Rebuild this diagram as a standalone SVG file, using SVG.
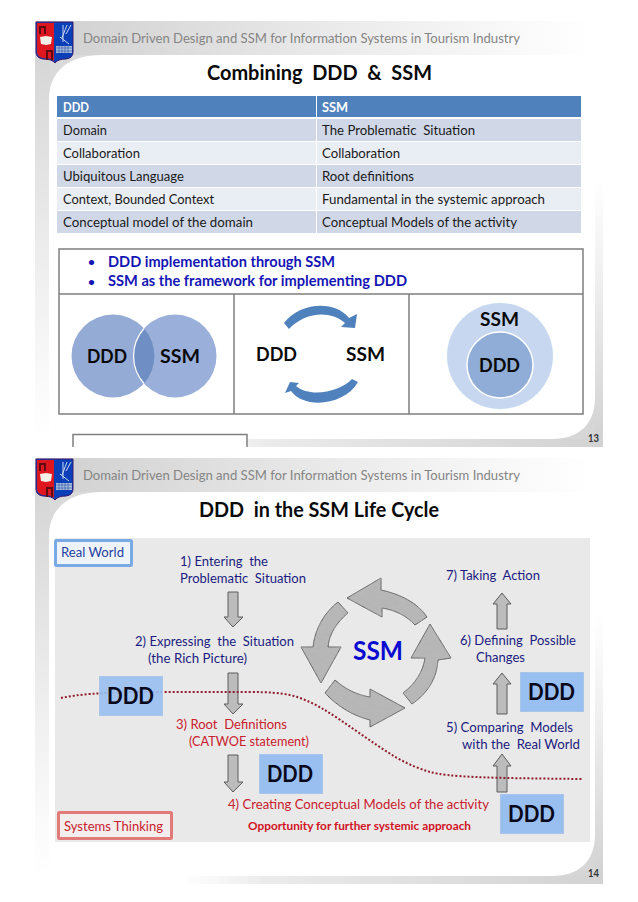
<svg xmlns="http://www.w3.org/2000/svg" width="638" height="902" viewBox="0 0 638 902">
<style>
text{font-family:"Lato","Liberation Sans",sans-serif;white-space:pre}
.hd{font-size:13.5px;fill:#858585}
.ti{font-size:20.500px;font-weight:700;fill:#0a0a0a}
.tb{font-size:14px;fill:#1a1a1a}
.th{font-size:14px;font-weight:700;fill:#fff}
.bl{font-size:15px;font-weight:700;fill:#1515b5}
.dot{font-size:12px;font-weight:700;fill:#1515b5}
.big{font-size:19px;font-weight:700;fill:#0a0a0a}
.pg{font-size:10.5px;font-weight:700;fill:#333}
.nv{font-size:13.5px;fill:#1c1c80}
.rd{font-size:13.5px;fill:#c9202c}
.dd{font-size:23px;font-weight:700;fill:#08081a}
.grid{fill:none;stroke:#7f7f7f;stroke-width:1.5}
.ddbox{fill:#99bff0;stroke:#a9c6ea;stroke-width:1}
.ga{fill:#b8b8b8;stroke:#5a5a5a;stroke-width:1;filter:url(#tex)}
.sa{fill:#bcbcbc;stroke:#5c5c5c;stroke-width:1}
.ba{fill:#4f81bd}
</style>
<defs>
<filter id="tex" x="-5%" y="-5%" width="110%" height="110%">
<feTurbulence type="fractalNoise" baseFrequency="0.12 0.3" numOctaves="2" seed="4" result="n"/>
<feColorMatrix in="n" type="matrix" values="0 0 0 0 .45  0 0 0 0 .45  0 0 0 0 .45  .9 0 0 0 -.2" result="m"/>
<feComposite in="m" in2="SourceGraphic" operator="in" result="t"/>
<feMerge><feMergeNode in="SourceGraphic"/><feMergeNode in="t"/></feMerge>
</filter>
<linearGradient id="topG"><stop offset="0" stop-color="#cfcfcf"/><stop offset=".55" stop-color="#ebebeb"/><stop offset="1" stop-color="#fff"/></linearGradient>
<linearGradient id="leftG" x1="0" y1="0" x2="0" y2="1"><stop offset="0" stop-color="#d2d2d2"/><stop offset=".6" stop-color="#efefef"/><stop offset="1" stop-color="#fff"/></linearGradient>
<linearGradient id="botG"><stop offset="0" stop-color="#fff"/><stop offset=".2" stop-color="#ebebeb"/><stop offset="1" stop-color="#d2d2d2"/></linearGradient>
<linearGradient id="rightG" x1="0" y1="0" x2="0" y2="1"><stop offset="0" stop-color="#fff"/><stop offset=".4" stop-color="#efefef"/><stop offset="1" stop-color="#d2d2d2"/></linearGradient>
<g id="frame">
<rect x="35" y="21" width="556" height="34" fill="url(#topG)"/>
<rect x="35" y="21" width="14" height="419" fill="url(#leftG)"/>
<path d="M49,100 C49,70 70,55 102,55 L49,55 Z" fill="#dadada"/>
<rect x="183" y="439" width="420" height="8" fill="url(#botG)"/>
<rect x="595" y="177" width="8" height="262" fill="url(#rightG)"/>
<path d="M595,398 C595,425 578,439 552,439 L595,439 Z" fill="#d6d6d6"/>
</g>
<g id="logo">
<path d="M36,22 H73 V52 Q73,58 66,59 Q58,59 55,63 Q52,59 43,59 Q36,58 36,52 Z" fill="#0b3fb8" stroke="#3a1a6e" stroke-width="1"/>
<path d="M37,23 H54 V61 Q51,58 43,58 Q37,57 37,51 Z" fill="#dd1620"/>
<path d="M39,26 H46 V34 H44 V28 H41 V34 H39 Z" fill="#5e0c12"/>
<path d="M46,50 H53 V60 H51 V52 H48 V60 H46 Z" fill="#5e0c12"/>
<path d="M40,37 L46,36 L52,37 L51,44 L46,45 L41,44 Z" fill="#f4f0e8"/>
<path d="M63,25 V42 M67,25 L62,38 M71,25 L66,34 M60,37 L69,44" stroke="#c9d8ee" stroke-width="1" fill="none"/>
<rect x="56" y="46" width="16" height="7" fill="#a9bfdc"/>
<path d="M56,48 H72 M56,51 H72 M59,46 V53 M62,46 V53 M65,46 V53 M68,46 V53" stroke="#2a4da8" stroke-width=".6"/>
</g>
</defs>
<rect width="638" height="902" fill="#fff"/>

<g id="slide13-frame"><use href="#frame"/><use href="#logo"/></g>
<text class="hd" x="83" y="43" textLength="437" lengthAdjust="spacingAndGlyphs">Domain Driven Design and SSM for Information Systems in Tourism Industry</text>
<text class="ti" x="207" y="80" textLength="225" lengthAdjust="spacingAndGlyphs">Combining  DDD  &amp;  SSM</text>

<g id="table">
<rect x="57" y="96" width="524" height="21" fill="#4f81bd"/>
<rect x="57" y="119" width="524" height="22" fill="#d0d8e8"/>
<rect x="57" y="142" width="524" height="22" fill="#e9edf4"/>
<rect x="57" y="165" width="524" height="22" fill="#d0d8e8"/>
<rect x="57" y="188" width="524" height="22" fill="#e9edf4"/>
<rect x="57" y="211" width="524" height="22" fill="#d0d8e8"/>
<path d="M316.5,96 V233" stroke="#fff" stroke-width="1"/>
<text class="th" x="63" y="112" textLength="26" lengthAdjust="spacingAndGlyphs">DDD</text>
<text class="th" x="322" y="112" textLength="26" lengthAdjust="spacingAndGlyphs">SSM</text>
<text class="tb" x="63" y="135" textLength="44" lengthAdjust="spacingAndGlyphs">Domain</text>
<text class="tb" x="322" y="135" textLength="153" lengthAdjust="spacingAndGlyphs">The Problematic  Situation</text>
<text class="tb" x="63" y="158" textLength="77" lengthAdjust="spacingAndGlyphs">Collaboration</text>
<text class="tb" x="322" y="158" textLength="78" lengthAdjust="spacingAndGlyphs">Collaboration</text>
<text class="tb" x="63" y="181" textLength="121" lengthAdjust="spacingAndGlyphs">Ubiquitous Language</text>
<text class="tb" x="322" y="181" textLength="92" lengthAdjust="spacingAndGlyphs">Root definitions</text>
<text class="tb" x="63" y="204" textLength="151" lengthAdjust="spacingAndGlyphs">Context, Bounded Context</text>
<text class="tb" x="322" y="204" textLength="223" lengthAdjust="spacingAndGlyphs">Fundamental in the systemic approach</text>
<text class="tb" x="63" y="227" textLength="190" lengthAdjust="spacingAndGlyphs">Conceptual model of the domain</text>
<text class="tb" x="322" y="227" textLength="195" lengthAdjust="spacingAndGlyphs">Conceptual Models of the activity</text>
</g>

<g id="comparison-grid">
<rect class="grid" x="59" y="249" width="524" height="165"/>
<path class="grid" d="M59,294 H583 M234,294 V414 M409,294 V414"/>
<text class="dot" x="88" y="266">•</text>
<text class="dot" x="88" y="286">•</text>
<text class="bl" x="108" y="267" textLength="227" lengthAdjust="spacingAndGlyphs">DDD implementation through SSM</text>
<text class="bl" x="108" y="286" textLength="299" lengthAdjust="spacingAndGlyphs">SSM as the framework for implementing DDD</text>
</g>

<g id="venn">
<circle cx="113" cy="356" r="41.5" fill="#94abd6"/>
<circle cx="175" cy="356" r="41.5" fill="#9ab0da"/>
<path d="M144,328.5 A41.5,41.5 0 0 1 144,383.5 A41.5,41.5 0 0 1 144,328.5 Z" fill="#6f8fc4"/>
<path d="M144,328.5 A41.5,41.5 0 0 0 144,383.5" fill="none" stroke="#fff" stroke-width="1.2"/>
<text class="big" x="87" y="363" textLength="40" lengthAdjust="spacingAndGlyphs">DDD</text>
<text class="big" x="160" y="363" textLength="40" lengthAdjust="spacingAndGlyphs">SSM</text>
</g>

<g id="cycle">
<path class="ba" d="M284,323 C300,302 335,300 349,318 L357,314 L355,328 L341,327 L345,323 C330,310 305,312 289,329 Z"/>
<path class="ba" d="M358,382 C345,405 305,410 291,391 L285,393 L290,382 L299,383 L296,386 C310,398 340,392 352,379 Z"/>
<text class="big" x="256" y="361" textLength="41" lengthAdjust="spacingAndGlyphs">DDD</text>
<text class="big" x="346" y="361" textLength="39" lengthAdjust="spacingAndGlyphs">SSM</text>
</g>

<g id="nested">
<circle cx="500" cy="356" r="53" fill="#c6d7ef"/>
<circle cx="500" cy="365" r="33" fill="#8fadd6" stroke="#fff" stroke-width="1.5"/>
<text class="big" x="480" y="326" textLength="39" lengthAdjust="spacingAndGlyphs">SSM</text>
<text class="big" x="479" y="372" textLength="41" lengthAdjust="spacingAndGlyphs">DDD</text>
</g>

<g id="cropped-box">
<rect x="73" y="434" width="174" height="13" fill="#fff"/>
<path class="grid" d="M73,447 V434.5 H247 V447"/>
</g>
<text class="pg" x="588" y="442" textLength="11" lengthAdjust="spacingAndGlyphs">13</text>

<g id="slide14-frame"><use href="#frame" y="437"/><use href="#logo" y="437"/></g>
<text class="hd" x="83" y="480" textLength="437" lengthAdjust="spacingAndGlyphs">Domain Driven Design and SSM for Information Systems in Tourism Industry</text>
<text class="ti" x="199" y="517" textLength="240" lengthAdjust="spacingAndGlyphs">DDD  in the SSM Life Cycle</text>

<rect id="panel" x="55" y="538" width="535" height="304" fill="#e9e9e9"/>

<g id="ssm-cycle">
<path class="ga" d="M347,598 L381,578 L381,590 C400,594 418,603 427,617 L415,625 C407,616 395,610 382,608 L382,617 Z"/>
<path class="ga" d="M430,624 L411,658 L425,658 C423,672 415,684 403,693 L412,704 C428,693 437,678 438,660 L451,658 Z"/>
<path class="ga" d="M321,683 L301,647 L313,647 C315,628 325,612 338,602 L348,613 C337,622 329,634 328,647 L341,647 Z"/>
<path class="ga" d="M405,708 L370,689 L370,697 C357,695 345,689 335,680 L325,693 C338,707 354,716 370,720 L370,727 Z"/>
<text x="353" y="660" font-size="26" font-weight="700" fill="#0a0ad0" textLength="50" lengthAdjust="spacingAndGlyphs">SSM</text>
</g>

<g id="connectors">
<path class="sa" d="M228,592 H238 V617 H243 L233,627 L224,617 H228 Z"/>
<path class="sa" d="M228,673 H238 V704 H243 L233,714 L224,704 H228 Z"/>
<path class="sa" d="M228,755 H238 V782 H243 L233,792 L224,782 H228 Z"/>
<path class="sa" d="M502,593 L511,604 H507 V629 H497 V604 H493 Z"/>
<path class="sa" d="M502,673 L511,684 H507 V714 H497 V684 H493 Z"/>
<path class="sa" d="M502,754 L511,766 H507 V792 H497 V766 H493 Z"/>
<path d="M61,698 C80,694 100,693 130,692 L250,692 C268,692 280,693 290,695 C302,698 313,703 323,709 C345,722 372,743 397,758 C410,765 420,769 430,772 C450,777 480,778 583,779" fill="none" stroke="#8f1c2c" stroke-width="2" stroke-dasharray="2 2"/>
</g>

<g id="real-world">
<rect x="55.500" y="540.500" width="76" height="25" fill="#eef3fa" stroke="#79aae6" stroke-width="3" rx="1"/>
<text x="61" y="557" font-size="14" fill="#1f3f9f" textLength="63" lengthAdjust="spacingAndGlyphs">Real World</text>
</g>
<g id="systems-thinking">
<rect x="58.500" y="812.500" width="113" height="26" fill="#f3eded" stroke="#e37a7a" stroke-width="3" rx="1"/>
<text x="64" y="831" font-size="14" fill="#c9202c" textLength="99" lengthAdjust="spacingAndGlyphs">Systems Thinking</text>
</g>

<g id="step1"><text class="nv" x="180" y="566" textLength="88" lengthAdjust="spacingAndGlyphs">1) Entering  the</text><text class="nv" x="180" y="583" textLength="126" lengthAdjust="spacingAndGlyphs">Problematic  Situation</text></g>
<g id="step2"><text class="nv" x="135" y="646" textLength="159" lengthAdjust="spacingAndGlyphs">2) Expressing  the  Situation</text><text class="nv" x="148" y="663" textLength="99" lengthAdjust="spacingAndGlyphs">(the Rich Picture)</text></g>
<g id="step3"><text class="rd" x="176" y="729" textLength="111" lengthAdjust="spacingAndGlyphs">3) Root  Definitions</text><text class="rd" x="189" y="746" textLength="120" lengthAdjust="spacingAndGlyphs">(CATWOE statement)</text></g>
<g id="step4"><text class="rd" x="228" y="809" textLength="261" lengthAdjust="spacingAndGlyphs">4) Creating Conceptual Models of the activity</text>
<text x="248" y="830" font-size="11.5" font-weight="700" fill="#d2121f" textLength="223" lengthAdjust="spacingAndGlyphs">Opportunity for further systemic approach</text></g>
<g id="step5"><text class="nv" x="446" y="732" textLength="127" lengthAdjust="spacingAndGlyphs">5) Comparing  Models</text><text class="nv" x="462" y="749" textLength="118" lengthAdjust="spacingAndGlyphs">with the  Real World</text></g>
<g id="step6"><text class="nv" x="460" y="645" textLength="116" lengthAdjust="spacingAndGlyphs">6) Defining  Possible</text><text class="nv" x="476" y="662" textLength="49" lengthAdjust="spacingAndGlyphs">Changes</text></g>
<g id="step7"><text class="nv" x="446" y="580" textLength="94" lengthAdjust="spacingAndGlyphs">7) Taking  Action</text></g>

<g id="ddd-1"><rect class="ddbox" x="99.500" y="676.500" width="63" height="39" fill-opacity=".9"/><text class="dd" x="107" y="704" textLength="47" lengthAdjust="spacingAndGlyphs">DDD</text></g>
<g id="ddd-2"><rect class="ddbox" x="259.500" y="754.500" width="63" height="39"/><text class="dd" x="267" y="782" textLength="46" lengthAdjust="spacingAndGlyphs">DDD</text></g>
<g id="ddd-3"><rect class="ddbox" x="520.500" y="672.500" width="63" height="39"/><text class="dd" x="528" y="700" textLength="47" lengthAdjust="spacingAndGlyphs">DDD</text></g>
<g id="ddd-4"><rect class="ddbox" x="500.500" y="794.500" width="63" height="39"/><text class="dd" x="508" y="822" textLength="47" lengthAdjust="spacingAndGlyphs">DDD</text></g>

<text class="pg" x="588" y="877" textLength="11" lengthAdjust="spacingAndGlyphs">14</text>
</svg>
